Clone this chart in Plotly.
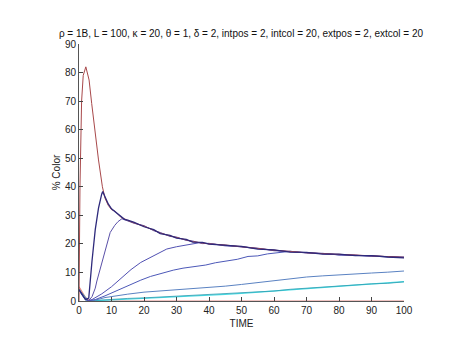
import plotly.graph_objects as go

title_text = "ρ = 1B, L = 100, κ = 20, θ = 1, δ = 2, intpos = 2, intcol = 20, extpos = 2, extcol = 20"

# Series (time, % colour)
red_t = [0, 0.3, 0.8, 1.3, 2.1, 3.1, 3.9, 4.9, 6, 7.2, 8, 9, 10, 11, 12, 13, 14, 15, 17, 20, 23, 25, 28, 30, 33, 35, 38, 40, 45, 50, 55, 60, 65, 70, 75, 80, 85, 90, 95, 100]
red_v = [0, 40, 70, 79, 82, 77.4, 69.2, 58.7, 49.4, 40, 36, 33.5, 32, 31.5, 30.5, 29.2, 28.8, 28.2, 27.3, 26.2, 24.8, 23.8, 22.8, 22.2, 21.4, 20.8, 20.3, 20, 19.6, 18.9, 18.4, 17.8, 17.3, 16.9, 16.6, 16.3, 16, 15.8, 15.5, 15.3]

zero_t = [0, 0.5, 1, 2, 3, 4, 100]
zero_v = [5, 4, 3, 1.2, 0.3, 0, 0]

navy_t = [0, 1, 2, 3, 3.5, 4, 5, 6, 7, 7.3, 8, 9, 10, 11, 12, 13, 14, 15, 17, 20, 23, 25, 28, 30, 33, 35, 38, 40, 45, 50, 55, 60, 65, 70, 75, 80, 85, 90, 95, 100]
navy_v = [4, 2, 0.5, 1, 8, 14, 25, 32.5, 37.5, 38.3, 36.5, 34, 32.3, 31.3, 30.5, 29.5, 28.6, 28.3, 27.5, 26, 25, 23.6, 23, 22, 21.6, 20.6, 20.5, 19.9, 19.4, 19.1, 18.2, 17.9, 17.1, 17, 16.4, 16.4, 15.9, 15.9, 15.4, 15.1]

purple_t = [0, 1, 2, 3, 4, 5, 5.5, 6.5, 7.4, 8.5, 9.6, 11, 12, 13.2, 14, 15, 17, 20, 23, 25, 28, 30, 33, 35, 38, 40, 45, 50, 55, 60, 65, 70, 75, 80, 85, 90, 95, 100]
purple_v = [4, 2, 0.7, 0.2, 1.5, 4.5, 7, 11, 15, 19.5, 24, 26.5, 27.8, 28.8, 28.5, 28, 27.2, 26.4, 24.6, 24, 22.6, 22.4, 21.2, 21, 20.1, 20.2, 19.3, 19, 18.5, 17.6, 17.4, 16.8, 16.7, 16.1, 16.1, 15.7, 15.6, 15.4]

blue1_t = [0, 1, 2, 3, 4, 5, 7, 10, 13, 16, 19, 22, 25, 27, 30, 33, 35, 37, 40, 45, 50, 55, 60, 65, 70, 75, 80, 85, 90, 95, 100]
blue1_v = [4, 2, 0.6, 0.2, 0.5, 1.2, 2.5, 5, 8, 11, 13.5, 15.3, 17.2, 18.2, 19, 19.6, 20, 20.4, 20.1, 19.5, 18.8, 18.3, 17.7, 17.2, 16.9, 16.5, 16.2, 16, 15.7, 15.5, 15.2]

blue2_t = [0, 1, 2, 3, 5, 8, 10, 13, 16, 19, 22, 25, 29, 32, 35, 39, 42, 45, 48.7, 52, 55, 58, 62, 65, 68, 70, 75, 80, 85, 90, 95, 100]
blue2_v = [4, 2, 0.5, 0.1, 0.5, 1.8, 2.8, 4.3, 6, 7.3, 8.6, 9.6, 10.8, 11.5, 12, 12.6, 13.4, 14, 14.6, 15.6, 15.8, 16.5, 17, 17.4, 17.1, 16.9, 16.6, 16.2, 16, 15.8, 15.5, 15.3]

steel_t = [0, 1, 2, 3, 5, 8, 10, 15, 20, 25, 30, 35, 40, 45, 50, 55, 60, 65, 70, 75, 80, 85, 90, 95, 100]
steel_v = [4, 2, 0.5, 0, 0.3, 1.2, 1.6, 2.4, 3.1, 3.5, 3.9, 4.2, 4.6, 5.2, 5.8, 6.5, 7.1, 7.8, 8.4, 8.8, 9.2, 9.4, 9.8, 10.1, 10.5]

cyan_t = [0, 1, 2, 3, 5, 10, 15, 20, 25, 30, 35, 40, 45, 50, 55, 60, 65, 70, 75, 80, 85, 90, 95, 100]
cyan_v = [4, 2, 0.5, 0, 0.1, 0.5, 0.8, 1.0, 1.3, 1.5, 1.8, 2.0, 2.3, 2.7, 3.1, 3.6, 4.0, 4.4, 4.9, 5.3, 5.6, 5.9, 6.3, 6.8]

teal_t = [0, 3, 5, 10, 15, 20, 25, 30, 35, 40, 45, 50, 55, 60, 65, 70, 75, 80, 85, 90, 95, 100]
teal_v = [4, 0, 0.2, 0.6, 0.9, 1.1, 1.4, 1.6, 1.9, 2.1, 2.4, 2.8, 3.2, 3.5, 4.1, 4.5, 4.8, 5.2, 5.7, 6.0, 6.2, 6.7]

series = [
    (zero_t, zero_v, "#e08a86", 1.2),
    (cyan_t, cyan_v, "#48dce4", 1.2),
    (teal_t, teal_v, "#2f9aae", 0.8),
    (steel_t, steel_v, "#5a82c2", 1.0),
    (blue2_t, blue2_v, "#4c58b8", 1.0),
    (blue1_t, blue1_v, "#5050b2", 1.0),
    (purple_t, purple_v, "#5a50a8", 1.0),
    (red_t, red_v, "#a8484a", 1.0),
    (navy_t, navy_v, "#2e2a7c", 1.3),
]

fig = go.Figure()
for t, v, c, w in series:
    fig.add_trace(go.Scatter(x=t, y=v, mode="lines", line=dict(color=c, width=w),
                             showlegend=False, hoverinfo="skip"))

axis_font = dict(family="Liberation Sans, Arial, sans-serif", size=10, color="#222")
fig.update_layout(
    width=474, height=355,
    margin=dict(l=71, r=78, t=36, b=62),
    paper_bgcolor="white", plot_bgcolor="white",
    title=dict(text=title_text, x=(241 - 8) / 474, xanchor="center", y=1 - 25 / 355, yanchor="middle",
               font=dict(family="Liberation Sans, Arial, sans-serif", size=10, color="#111")),
    xaxis=dict(range=[0, 100], tickvals=list(range(0, 101, 10)), ticks="inside", ticklen=4,
               tickcolor="#444", showline=True, linecolor="#555", linewidth=1, showgrid=False,
               zeroline=False, tickfont=axis_font, automargin=False,
               title=dict(text="TIME", font=axis_font, standoff=4)),
    yaxis=dict(range=[0, 90], tickvals=list(range(0, 91, 10)), ticks="inside", ticklen=4,
               tickcolor="#444", showline=True, linecolor="#555", linewidth=1, showgrid=False,
               zeroline=False, tickfont=axis_font, automargin=False,
               title=dict(text="% Color", font=axis_font, standoff=2)),
)

fig.write_html("out.html")
